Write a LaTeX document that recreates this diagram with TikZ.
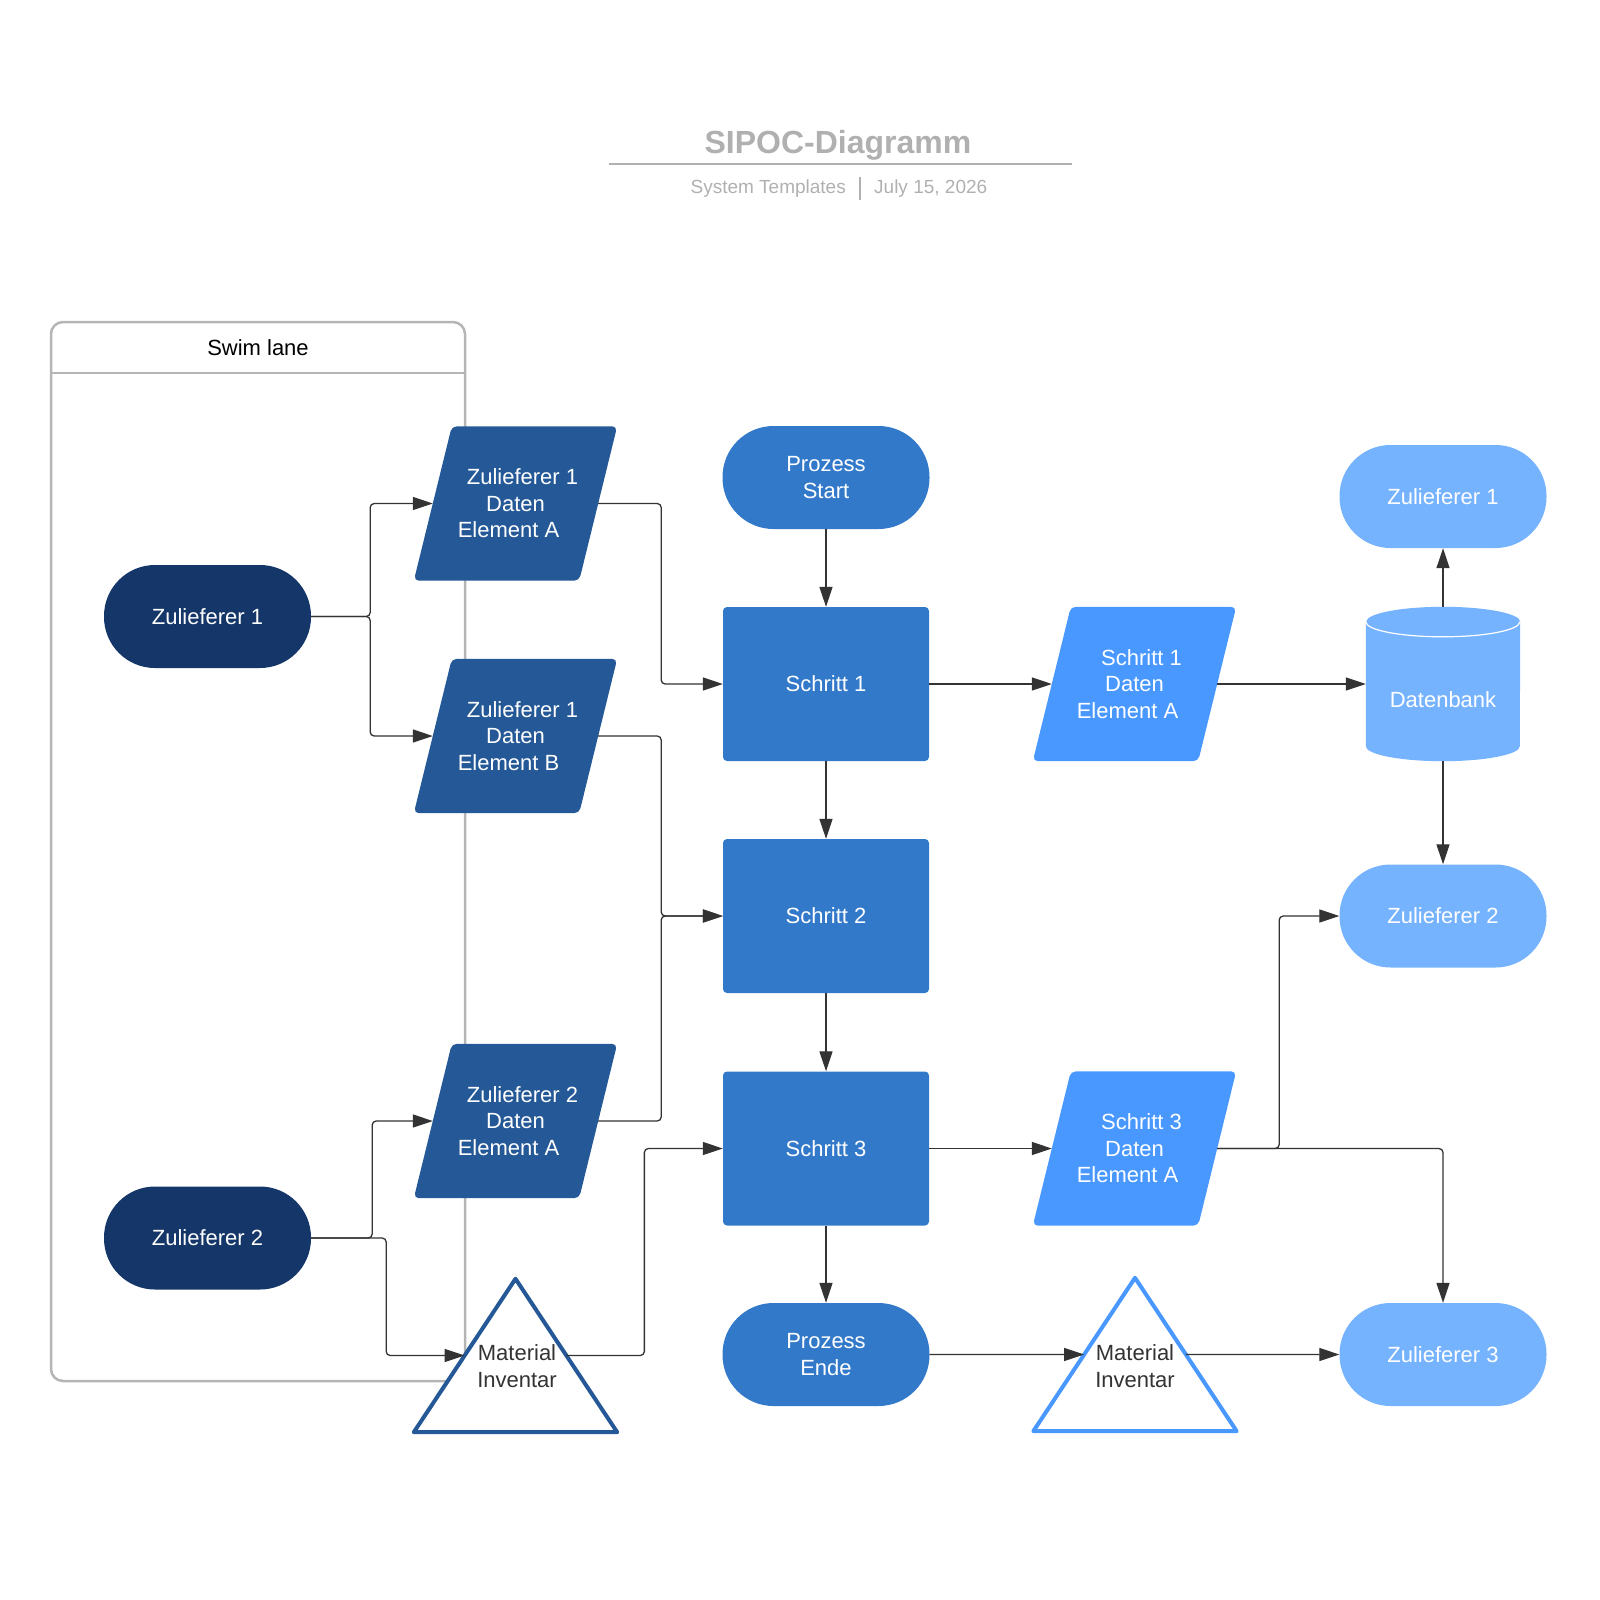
\documentclass[tikz,border=0pt]{standalone}
\usepackage{fontspec}
\setmainfont{Liberation Sans}
\usepackage{tikz}
\usetikzlibrary{arrows.meta,calc}
\usetikzlibrary{backgrounds}
\pgfdeclarelayer{background}
\pgfsetlayers{background,main}

\definecolor{navy}{HTML}{143668}
\definecolor{darkblue}{HTML}{245896}
\definecolor{midblue}{HTML}{3379CA}
\definecolor{lightblue}{HTML}{4998FF}
\definecolor{paleblue}{HTML}{76B3FF}
\definecolor{lanegray}{HTML}{B5B5B5}
\definecolor{conngray}{HTML}{333333}
\definecolor{titlegray}{HTML}{B0B0B0}

\tikzset{
  box/.style={text=white, font=\fontsize{22}{26.5}\selectfont, align=center, inner sep=0pt},
  terminal/.style={box, rectangle, rounded corners=51pt, minimum width=207pt, minimum height=103pt},
  process/.style={box, rectangle, rounded corners=4pt, fill=midblue, minimum width=206pt, minimum height=154pt},
  holder/.style={box, minimum width=#1, minimum height=154pt},
  slanted/.style={fill=#1, rounded corners=5pt},
  material/.style={draw=#1, fill=white, line width=4pt, line join=round},
  tritext/.style={text=conngray, font=\fontsize{22}{26.5}\selectfont, align=center, inner sep=0pt},
  conn/.style={draw=conngray, line width=1.3pt, rounded corners=4pt, -{Triangle[length=20pt,width=13pt]}},
  lane/.style={draw=lanegray, line width=2.5pt},
  subtitle/.style={text=titlegray, font=\fontsize{19}{22}\selectfont, inner sep=0pt}
}
\newcommand{\paral}[2]{%
  \fill[slanted=#2] ($(#1.south west)+(-19,0)$) -- ($(#1.north west)+(19,0)$)
    -- ($(#1.north east)+(19,0)$) -- ($(#1.south east)+(-19,0)$) -- cycle;}

\begin{document}
\begin{tikzpicture}[x=1pt, y=-1pt]
\useasboundingbox (0,0) rectangle (1600,1600);

% title
\node[text=titlegray, font=\bfseries\fontsize{32}{38}\selectfont] (title) at (838,145) {SIPOC-Diagramm};
\draw[titlegray, line width=2pt] (609,164) -- (1072,164);
\node[subtitle, anchor=east] (team) at (846,189) {System Templates};
\node[subtitle, anchor=west] (date) at (874,189) {July 15, 2026};
\draw[titlegray, line width=1.2pt] (860,177) -- (860,200);

% suppliers
\node[terminal, fill=navy] (z1) at (207.5,616.5) {Zulieferer 1};
\node[terminal, fill=navy] (z2) at (207.5,1238) {Zulieferer 2};

% inputs
\node[holder=165pt] (pA) at (515.5,503.5) {\hspace*{14pt}Zulieferer 1\\Daten\\Element A\hspace*{14pt}};
\node[holder=165pt] (pB) at (515.5,736) {\hspace*{14pt}Zulieferer 1\\Daten\\Element B\hspace*{14pt}};
\node[holder=165pt] (pC) at (515.5,1121) {\hspace*{14pt}Zulieferer 2\\Daten\\Element A\hspace*{14pt}};
\node[holder=203pt, minimum height=153pt] (matA) at (515.5,1355.5) {};
\draw[material=darkblue] (matA.south west) -- (matA.north) -- (matA.south east) -- cycle;
\node[tritext] (matAtext) at (517,1366) {Material\\Inventar};
\coordinate (matAin) at ($(matA.north)!0.5!(matA.south west)$);
\coordinate (matAout) at ($(matA.north)!0.5!(matA.south east)$);

% process
\node[terminal, fill=midblue] (start) at (826,477.5) {Prozess\\Start};
\node[process] (sch1) at (826,684) {Schritt 1};
\node[process] (sch2) at (826,916) {Schritt 2};
\node[process] (sch3) at (826,1148.5) {Schritt 3};
\node[terminal, fill=midblue] (ende) at (826,1354.5) {Prozess\\Ende};

% outputs
\node[holder=165pt] (pS1) at (1134.5,684) {\hspace*{14pt}Schritt 1\\Daten\\Element A\hspace*{14pt}};
\node[holder=165pt] (pS3) at (1134.5,1148.5) {\hspace*{14pt}Schritt 3\\Daten\\Element A\hspace*{14pt}};
\node[holder=203pt, minimum height=153pt] (matB) at (1135,1354.5) {};
\draw[material=lightblue] (matB.south west) -- (matB.north) -- (matB.south east) -- cycle;
\node[tritext] (matBtext) at (1135,1366) {Material\\Inventar};
\coordinate (matBin) at ($(matB.north)!0.5!(matB.south west)$);
\coordinate (matBout) at ($(matB.north)!0.5!(matB.south east)$);

% customers
\node[holder=154pt] (db) at (1443,684) {};
\fill[paleblue] ($(db.north west)+(0,15)$) -- ($(db.south west)+(0,-15)$)
  arc[start angle=180, end angle=0, x radius=77, y radius=15]
  -- ($(db.north east)+(0,15)$)
  arc[start angle=0, end angle=-180, x radius=77, y radius=15] -- cycle;
\draw[white, line width=1.2pt] ($(db.north west)+(0,15)$) arc[start angle=180, end angle=0, x radius=77, y radius=15];
\node[box] (dbtext) at (1443,700) {Datenbank};
\node[terminal, fill=paleblue] (zr1) at (1443,496.5) {Zulieferer 1};
\node[terminal, fill=paleblue] (zr2) at (1443,916) {Zulieferer 2};
\node[terminal, fill=paleblue] (zr3) at (1443,1354.5) {Zulieferer 3};

\begin{pgfonlayer}{background}
  % swim lane
  \draw[lane, rounded corners=12pt] (51,322) rectangle (465,1381);
  \draw[lane] (51,373) -- (465,373);
  \node[font=\fontsize{22}{26}\selectfont, inner sep=0pt] (lanetitle) at (258,348) {Swim lane};
  \paral{pA}{darkblue}
  \paral{pB}{darkblue}
  \paral{pC}{darkblue}
  \paral{pS1}{lightblue}
  \paral{pS3}{lightblue}
\end{pgfonlayer}

% connectors
\draw[conn] (z1.east) -- ++(59,0) |- (pA.west);
\draw[conn] (z1.east) -- ++(59,0) |- (pB.west);
\draw[conn] (z2.east) -- ++(61,0) |- (pC.west);
\draw[conn] (z2.east) -- ++(75,0) |- (matAin);
\draw[conn] (pA.east) -- ++(63,0) |- (sch1.west);
\draw[conn] (pB.east) -- ++(63,0) |- (sch2.west);
\draw[conn] (pC.east) -- ++(63,0) |- (sch2.west);
\draw[conn] (matAout) -- ++(78,0) |- (sch3.west);
\draw[conn] (start) -- (sch1);
\draw[conn] (sch1) -- (sch2);
\draw[conn] (sch2) -- (sch3);
\draw[conn] (sch3) -- (ende);
\draw[conn] (sch1) -- (pS1);
\draw[conn] (sch3) -- (pS3);
\draw[conn] (pS1.east) -- (db.west);
\draw[conn] (db.north) -- (zr1.south);
\draw[conn] (db.south) -- (zr2.north);
\draw[conn] (pS3.east) -- ++(62,0) |- (zr2.west);
\draw[conn] (pS3.east) -| (zr3.north);
\draw[conn] (ende.east) -- (matBin);
\draw[conn] (matBout) -- (zr3.west);
\end{tikzpicture}
\end{document}
